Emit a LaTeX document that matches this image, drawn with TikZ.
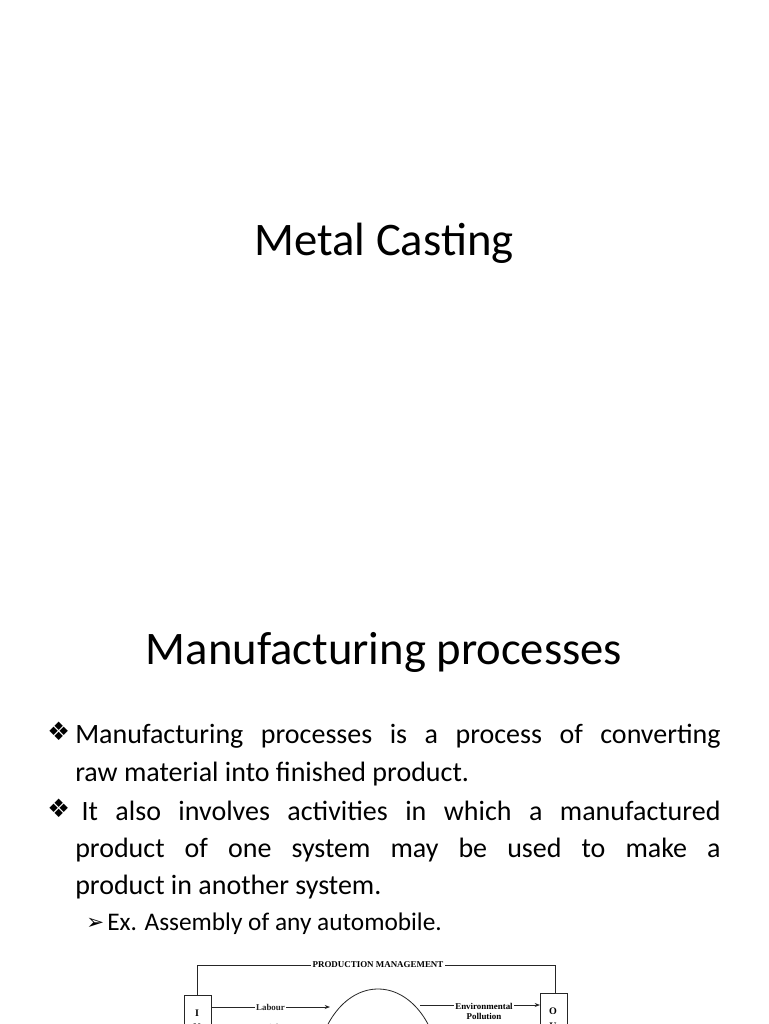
\documentclass[tikz,border=0pt]{standalone}
\usepackage{fontspec}
\setmainfont{Carlito}
\newfontfamily\symf{DejaVu Sans}
\newfontfamily\serf{Liberation Serif}
\usetikzlibrary{arrows.meta}
\tikzset{ln/.style={anchor=base west,inner sep=0pt,font=\fontsize{21pt}{25pt}\selectfont},
 bul/.style={anchor=base west,inner sep=0pt,font=\symf\fontsize{19pt}{21pt}\selectfont},
 dg/.style={line width=0.6pt,black!85},
 lbl/.style={font=\serf\fontsize{6.7pt}{7.5pt}\selectfont\bfseries,fill=white,inner sep=1pt,align=center}}
\begin{document}
\begin{tikzpicture}[x=0.75pt,y=-0.75pt]
\clip (0,0) rectangle (768,1024);
\fill[white] (0,0) rectangle (768,1024);
\node[font=\fontsize{35pt}{40pt}\selectfont] (t1) at (384,243) {Metal Casting};
\node[font=\fontsize{35pt}{40pt}\selectfont] (t2) at (384,652) {Manufacturing processes};
\node[bul] (b1) at (47,740) {❖};
\node[ln] (l1) at (75,743) {\hbox to 484pt{Manufacturing\hfill processes\hfill is\hfill a\hfill process\hfill of\hfill converting}};
\node[ln] (l2) at (75,781) {raw material into finished product.};
\node[bul] (b2) at (47,817) {❖};
\node[ln] (l3) at (75,820) {\hbox to 484pt{\ It\hfill also\hfill involves\hfill activities\hfill in\hfill which\hfill a\hfill manufactured}};
\node[ln] (l4) at (75,857) {\hbox to 484pt{product\hfill of\hfill one\hfill system\hfill may\hfill be\hfill used\hfill to\hfill make\hfill a}};
\node[ln] (l5) at (75,894) {product in another system.};
\node[anchor=base west,inner sep=0pt,font=\symf\fontsize{16pt}{18pt}\selectfont] (ar) at (86,929) {➢};
\node[anchor=base west,inner sep=0pt,font=\fontsize{19pt}{22pt}\selectfont] (l6) at (107,930) {Ex. Assembly of any automobile.};
% diagram
\node[dg,draw,minimum width=20pt,minimum height=40pt,anchor=north west,inner sep=0pt] (ib) at (184,995) {};
\node[dg,draw,minimum width=20pt,minimum height=40pt,anchor=north west,inner sep=0pt] (ob) at (540,993) {};
\node[font=\serf\fontsize{7.5pt}{8pt}\selectfont\bfseries] (il) at (197,1013) {I};
\node[font=\serf\fontsize{7.5pt}{8pt}\selectfont\bfseries] (ol) at (553,1011) {O};
\draw[dg] (378,1075) ellipse [x radius=62, y radius=86];
\coordinate (tl) at (197,965); \coordinate (tr) at (555,965);
\draw[dg] (197,995) -- (tl) -- (tr) -- (555,993);
\node[lbl] (pm) at (378,965) {PRODUCTION MANAGEMENT};
\coordinate (ea) at (330,1007); \coordinate (eb) at (420,1005);
\draw[dg,-{Stealth[length=4pt]}] (211,1007) -- node[lbl]{Labour} (ea);
\draw[dg,-{Stealth[length=4pt]}] (eb) -- (540,1005);
\node[lbl] (ep) at (484,1011) {Environmental\\Pollution};
\node[font=\serf\fontsize{6.7pt}{7pt}\selectfont\bfseries] (mt) at (262,1027) {Material};
\node[font=\serf\fontsize{7.5pt}{8pt}\selectfont\bfseries] (n1) at (197,1027) {N};
\node[font=\serf\fontsize{7.5pt}{8pt}\selectfont\bfseries] (n2) at (553,1026) {U};
\end{tikzpicture}
\end{document}
